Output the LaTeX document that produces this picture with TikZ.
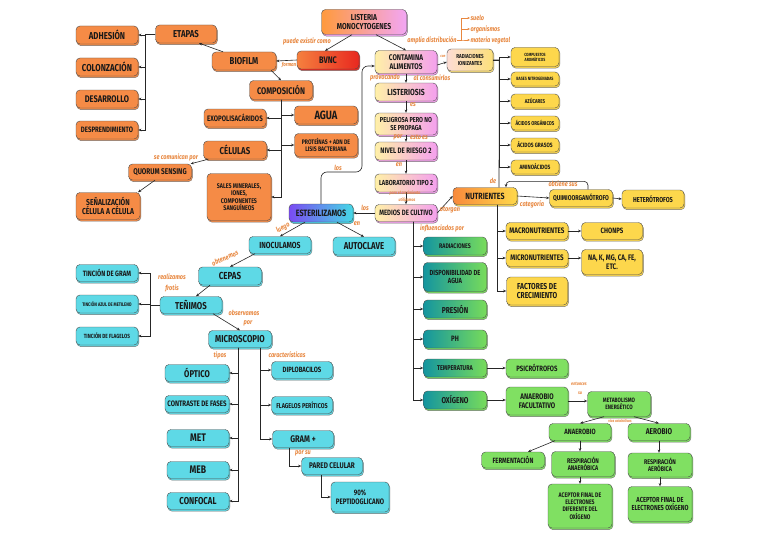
\documentclass[tikz,border=0pt]{standalone}
\usepackage{fontspec}
\usetikzlibrary{arrows.meta,shadows}
\newfontfamily\boxfont{Fira Sans}[FakeStretch=0.78]
\newfontfamily\labfont{Fira Sans}[FakeStretch=0.8]
\definecolor{orC}{HTML}{F58B46}
\definecolor{cyC}{HTML}{5ED9E6}
\definecolor{yeC}{HTML}{FDD74C}
\definecolor{grC}{HTML}{80E062}
\definecolor{labC}{HTML}{E8873F}
\definecolor{lisL}{HTML}{FF9A3C}
\definecolor{lisR}{HTML}{F2A6F4}
\definecolor{crL}{HTML}{FFF0A8}
\definecolor{crR}{HTML}{F4A0EE}
\definecolor{raL}{HTML}{FCDCD4}
\definecolor{raR}{HTML}{FCE07A}
\definecolor{bvL}{HTML}{F5803E}
\definecolor{bvR}{HTML}{E8281F}
\definecolor{esL}{HTML}{7A4BF2}
\definecolor{esR}{HTML}{45D8E6}
\definecolor{teL}{HTML}{14959F}
\definecolor{teR}{HTML}{78DC5A}
\definecolor{nuL}{HTML}{F88A3C}
\definecolor{nuR}{HTML}{FFD84A}
\tikzset{
  bx/.style={rounded corners=4pt, draw=black!70, line width=0.4pt, align=center, inner sep=0.5pt, text=black!90},
  fs/.style={font=\boxfont\bfseries\fontsize{#1}{\fpeval{#1*1.1}}\selectfont},
  card/.style={bx, fill=#1, general shadow={fill=#1, draw=black!55, shadow xshift=0.9pt, shadow yshift=-1.6pt}},
  gcard/.style 2 args={bx, left color=#1, right color=#2, general shadow={fill=#2, draw=black!55, shadow xshift=0.9pt, shadow yshift=-1.6pt}},
  sz/.style 2 args={minimum width=#1pt, minimum height=#2pt},
  arr/.style={-{Stealth[length=3.2pt,width=2.6pt]}, line width=0.6pt, draw=black!85},
  ln/.style={line width=0.6pt, draw=black!85},
  oarr/.style={-{Stealth[length=2.6pt,width=2.2pt]}, line width=0.5pt, draw=labC},
  lab/.style={text=labC, font=\labfont\bfseries\itshape\fontsize{#1}{\fpeval{#1*1.15}}\selectfont, inner sep=0.3pt},
  lab/.default=7
}
\begin{document}
\begin{tikzpicture}[x=1pt,y=-1pt]
\useasboundingbox (0,0) rectangle (768,543);
\fill[white] (0,0) rectangle (768,543);

% ---------- top ----------
\node[gcard={lisL}{lisR}, fs=8.6, sz={85}{25}] (lis) at (364,22) {LISTERIA\\MONOCYTOGENES};
\node[gcard={bvL}{bvR}, fs=9.5, sz={62}{18}] (bvnc) at (328,60) {BVNC};
\node[card=orC, fs=10, sz={64}{18}] (bio) at (244,61) {BIOFILM};
\node[card=orC, fs=10, sz={61}{18}] (eta) at (186,34) {ETAPAS};
\node[card=orC, fs=10, sz={62}{18}] (adh) at (107,35) {ADHESIÓN};
\node[card=orC, fs=10, sz={62}{18}] (col) at (107,67) {COLONZACIÓN};
\node[card=orC, fs=9.6, sz={62}{18}] (des) at (107,99) {DESARROLLO};
\node[card=orC, fs=7.8, sz={62}{18}] (dpr) at (107,130) {DESPRENDIMIENTO};
\node[card=orC, fs=9.6, sz={63}{19}] (comp) at (281,90) {COMPOSICIÓN};
\node[card=orC, fs=12, sz={63}{18}] (agua) at (326,115) {AGUA};
\node[card=orC, fs=6.6, sz={63}{23}] (prot) at (326,145) {PROTEÍNAS + ADN DE\\LISIS BACTERIANA};
\node[card=orC, fs=7.9, sz={62}{18}] (exo) at (235,118) {EXOPOLISACÁRIDOS};
\node[card=orC, fs=10, sz={63}{18}] (cel) at (235,150) {CÉLULAS};
\node[card=orC, fs=8.3, sz={63}{16}] (quo) at (160,172) {QUORUM SENSING};
\node[card=orC, fs=8.6, sz={64}{27}] (sen) at (108,206) {SEÑALIZACIÓN\\CÉLULA A CÉLULA};
\node[card=orC, fs=6.8, sz={64}{47}] (sal) at (239,197) {SALES MINERALES,\\IONES,\\COMPONENTES\\SANGUÍNEOS};

% ---------- listeria chain ----------
\node[gcard={crL}{crR}, fs=8.2, sz={62}{23}] (cont) at (406,62) {CONTAMINA\\ALIMENTOS};
\node[gcard={raL}{raR}, fs=5.8, sz={46}{22}] (radi) at (470,60) {RADIACIONES\\IONIZANTES};
\node[gcard={crL}{crR}, fs=8.8, sz={62}{18}] (lst) at (406,92) {LISTERIOSIS};
\node[gcard={crL}{crR}, fs=7.2, sz={62}{22}] (pel) at (406,124) {PELIGROSA PERO NO\\SE PROPAGA};
\node[gcard={crL}{crR}, fs=7.9, sz={62}{18}] (niv) at (406,151) {NIVEL DE RIESGO 2};
\node[gcard={crL}{crR}, fs=7.3, sz={62}{18}] (lab) at (406,183) {LABORATORIO TIPO 2};
\node[gcard={crL}{crR}, fs=7.7, sz={62}{17}] (med) at (406,213) {MEDIOS DE CULTIVO};

% ---------- compounds ----------
\node[card=yeC, fs=4.5, sz={48}{19}] (c1) at (535,57) {COMPUESTOS\\AROMÁTICOS};
\node[card=yeC, fs=4.7, sz={48}{14}] (c2) at (535,79) {BASES NITROGENADAS};
\node[card=yeC, fs=5.6, sz={48}{14}] (c3) at (535,101) {AZÚCARES};
\node[card=yeC, fs=5.6, sz={48}{14}] (c4) at (535,123) {ÁCIDOS ORGÁNICOS};
\node[card=yeC, fs=6.2, sz={48}{14}] (c5) at (535,145) {ÁCIDOS GRASOS};
\node[card=yeC, fs=6.2, sz={48}{14}] (c6) at (535,167) {AMINOÁCIDOS};

% ---------- nutrients ----------
\node[gcard={nuL}{nuR}, fs=9, sz={64}{17}] (nut) at (485,196) {NUTRIENTES};
\node[card=yeC, fs=7, sz={63}{17}] (quim) at (581,198) {QUIMIOORGANÓTROFO};
\node[card=yeC, fs=7.2, sz={62}{18}] (het) at (653,199) {HETERÓTROFOS};
\node[card=yeC, fs=8, sz={62}{17}] (mac) at (537,231) {MACRONUTRIENTES};
\node[card=yeC, fs=7.7, sz={61}{17}] (cho) at (612,231) {CHONPS};
\node[card=yeC, fs=8, sz={62}{17}] (mic) at (537,258) {MICRONUTRIENTES};
\node[card=yeC, fs=8, sz={61}{25}] (nak) at (612,262) {NA, K, MG, CA, FE,\\ETC.};
\node[card=yeC, fs=8.6, sz={61}{28}] (fac) at (537,291) {FACTORES DE\\CRECIMIENTO};

% ---------- sterilization / microscopy ----------
\node[gcard={esL}{esR}, fs=9.2, sz={64}{18}] (est) at (321,213) {ESTERILIZAMOS};
\node[card=cyC, fs=8.8, sz={62}{17}] (ino) at (280,245) {INOCULAMOS};
\node[card=cyC, fs=10, sz={62}{18}] (aut) at (364,246) {AUTOCLAVE};
\node[card=cyC, fs=10.2, sz={63}{18}] (cep) at (230,276) {CEPAS};
\node[card=cyC, fs=10, sz={62}{17}] (ten) at (191,305) {TEÑIMOS};
\node[card=cyC, fs=7.7, sz={62}{17}] (tg) at (107,273) {TINCIÓN DE GRAM};
\node[card=cyC, fs=5.1, sz={62}{18}] (ta) at (107,304) {TINCIÓN AZUL DE METILENO};
\node[card=cyC, fs=6, sz={62}{18}] (tf) at (107,336) {TINCIÓN DE FLAGELOS};
\node[card=cyC, fs=10, sz={63}{17}] (mcr) at (240,339) {MICROSCOPIO};
\node[card=cyC, fs=9.8, sz={64}{17}] (opt) at (197,373) {ÓPTICO};
\node[card=cyC, fs=7.9, sz={64}{17}] (cf) at (197,404) {CONTRASTE DE FASES};
\node[card=cyC, fs=11, sz={62}{17}] (met) at (198,438) {MET};
\node[card=cyC, fs=11, sz={62}{17}] (meb) at (198,470) {MEB};
\node[card=cyC, fs=10, sz={62}{17}] (cfo) at (198,501) {CONFOCAL};
\node[card=cyC, fs=7.6, sz={61}{17}] (dip) at (302,370) {DIPLOBACILOS};
\node[card=cyC, fs=7, sz={61}{17}] (flp) at (302,405) {FLAGELOS PERÍTICOS};
\node[card=cyC, fs=9.6, sz={61}{17}] (gra) at (303,439) {GRAM +};
\node[card=cyC, fs=8.2, sz={61}{17}] (par) at (332,466) {PARED CELULAR};
\node[card=cyC, fs=7.9, sz={58}{30}] (pep) at (360,497) {90\%\\PEPTIDOGLICANO};

% ---------- factors ----------
\node[gcard={teL}{teR}, fs=6.7, sz={63}{18}] (rad) at (455,246) {RADIACIONES};
\node[gcard={teL}{teR}, fs=7.4, sz={63}{29}] (dis) at (455,277) {DISPONIBILIDAD DE\\AGUA};
\node[gcard={teL}{teR}, fs=8.6, sz={63}{18}] (pre) at (455,309) {PRESIÓN};
\node[gcard={teL}{teR}, fs=7.8, sz={63}{18}] (ph) at (455,339) {PH};
\node[gcard={teL}{teR}, fs=7, sz={63}{18}] (tem) at (455,368) {TEMPERATURA};
\node[gcard={teL}{teR}, fs=8.5, sz={63}{18}] (oxi) at (455,400) {OXÍGENO};
\node[card=grC, fs=7.7, sz={62}{18}] (psi) at (537,368) {PSICRÓTROFOS};
\node[card=grC, fs=8.1, sz={62}{28}] (anf) at (537,401) {ANAEROBIO\\FACULTATIVO};
\node[card=grC, fs=6.3, sz={63}{25}] (mtb) at (619,404) {METABOLISMO\\ENERGÉTICO};
\node[card=grC, fs=7.6, sz={62}{17}] (ana) at (580,432) {ANAEROBIO};
\node[card=grC, fs=8.4, sz={62}{17}] (aer) at (659,432) {AEROBIO};
\node[card=grC, fs=7.6, sz={63}{16}] (fer) at (513,460) {FERMENTACIÓN};
\node[card=grC, fs=6.8, sz={63}{25}] (ran) at (583,464) {RESPIRACIÓN\\ANAERÓBICA};
\node[card=grC, fs=6.6, sz={64}{44}] (ac1) at (580,506) {ACEPTOR FINAL DE\\ELECTRONES\\DIFERENTE DEL\\OXÍGENO};
\node[card=grC, fs=6.8, sz={64}{24}] (rae) at (660,465) {RESPIRACIÓN\\AERÓBICA};
\node[card=grC, fs=7.3, sz={64}{35}] (ac2) at (660,504) {ACEPTOR FINAL DE\\ELECTRONES OXÍGENO};

% ---------- connectors ----------
\draw[arr] ([xshift=-12pt]lis.south) -- ([xshift=-3pt]bvnc.north);
\draw[arr] ([xshift=12pt]lis.south) -- (cont.north);
\draw[arr] (bvnc.west) -- (bio.east);
\draw[arr] ([xshift=-21pt]bio.north) -- ([xshift=13pt]eta.south);
\draw[arr] ([xshift=27pt]bio.south) -- (comp.north);
\foreach \t in {adh,col,des,dpr} \draw[arr] (eta.west) -- ++(-10,0) |- (\t.east);
\foreach \t in {exo,cel,sal} \draw[arr] (comp.south) |- (\t.east);
\foreach \t in {agua,prot} \draw[arr] (comp.south) |- (\t.west);
\draw[arr] ([xshift=5pt]cel.south west) -- ([xshift=-1pt]quo.north east);
\draw[arr] ([xshift=-5pt]quo.south) -- ([xshift=30pt]sen.north);

\draw[arr] (cont.south) -- (lst.north);
\draw[arr] (lst.south) -- (pel.north);
\draw[arr] (pel.south) -- (niv.north);
\draw[arr] (niv.south) -- (lab.north);
\draw[arr] (lab.south) -- (med.north);
\draw[arr] ([yshift=-3pt]cont.east) -- ([yshift=-2pt]radi.west);
\foreach \t in {c1,c2,c3,c4,c5,c6} \draw[arr] (radi.east) -- ++(6,0) |- (\t.west);
\draw[ln] (radi.east) -- ++(6,0) -- ([xshift=14pt]nut.north);
\coordinate (bendA) at (362,172);
\draw[arr, rounded corners=6pt] (est.north) |- (bendA) |- ([yshift=-4pt]cont.west);

\draw[arr] (med.west) -- (est.east);
\draw[arr] (med.east) -- (nut.west);
\draw[arr] (nut.east) -- (quim.west);
\draw[arr] (quim.east) -- (het.west);
\draw[arr, rounded corners=4pt] ([xshift=7pt]quim.north) -- ++(0,-8) -| ([xshift=21pt]nut.north);
\foreach \t in {mac,mic,fac} \draw[arr] ([xshift=12pt]nut.south) |- (\t.west);
\draw[arr] (mac.east) -- (cho.west);
\draw[arr] (mic.east) -- (mic.east -| nak.west);

\draw[arr] ([xshift=-16pt]est.south) -- (ino.north);
\draw[arr] ([xshift=16pt]est.south) -- (aut.north);
\draw[arr] ([xshift=-25pt]ino.south) -- (cep.north);
\draw[arr] ([xshift=-20pt]cep.south) -- ([xshift=5pt]ten.north);
\draw[arr] ([xshift=22pt]ten.south) -- (mcr.north);
\foreach \t in {tg,ta,tf} \draw[arr] (ten.west) -- ++(-10,0) |- (\t.east);
\foreach \t in {opt,cf,met,meb,cfo} \draw[arr] ([xshift=-2pt]mcr.south) |- (\t.east);
\foreach \t in {dip,flp,gra} \draw[arr] ([xshift=20pt]mcr.south) |- (\t.west);
\draw[arr] ([xshift=-14pt]gra.south) |- (par.west);
\draw[arr] ([xshift=-11pt]par.south) |- (pep.west);

\foreach \t in {rad,dis,pre,ph,tem,oxi} \draw[arr] ([xshift=7pt]med.south) |- (\t.west);
\draw[arr] (tem.east) -- (psi.west);
\draw[arr] (oxi.east) -- (oxi.east -| anf.west);
\draw[arr] (anf.east) -- (anf.east -| mtb.west);
\draw[arr] ([xshift=-15pt]mtb.south) -- (ana.north);
\draw[arr] ([xshift=15pt]mtb.south) -- (aer.north);
\draw[arr] ([xshift=-25pt]ana.south) -- ([xshift=15pt]fer.north);
\draw[arr] (ana.south) -- (ana.south |- ran.north);
\draw[arr] (ac1.north |- ran.south) -- (ac1.north);
\draw[arr] (aer.south) -- (aer.south |- rae.north);
\draw[arr] (rae.south) -- (ac2.north);

% ---------- labels ----------
\node[lab] at (307,41) {puede existir como};
\node[lab=5.5] at (289,65) {forman};
\node[lab] at (176,157) {se comunican por};
\node[lab] at (338,168) {los};
\node[lab, anchor=east] (amp) at (457,40) {amplia distribución};
\node[lab, anchor=west] (suelo) at (470,18) {suelo};
\node[lab, anchor=west] (orga) at (470,29) {organismos};
\node[lab, anchor=west] (mat) at (470,40) {materia vegetal};
\foreach \t in {suelo,orga,mat} \draw[oarr] (amp.east) -- ++(4,0) |- (\t.west);
\node[lab=4] at (443,56) {con};
\node[lab] at (385,78) {provocando};
\node[lab] at (432,78) {al consumirlos};
\node[lab] at (413,105) {es};
\node[lab] at (398,137) {por};
\node[lab] at (419,137) {esto es};
\node[lab] at (399,165) {en};
\node[lab=4.5] at (405,193) {para el crecimiento};
\node[lab=4.5] at (407,200) {utilizamos};
\node[lab] at (365,208) {los};
\node[lab, rotate=28] at (283,228) {luego};
\node[lab] at (357,224) {en};
\node[lab, rotate=24] at (225,258) {obtenemos};
\node[lab] at (172,277) {realizamos};
\node[lab] at (172,288) {frotis};
\node[lab] at (244,313) {observamos};
\node[lab] at (248,323) {por};
\node[lab] at (220,355) {tipos};
\node[lab] at (287,355) {características};
\node[lab] at (303,453) {por su};
\node[lab] at (442,228) {influenciados por};
\node[lab] at (450,210) {otorgan};
\node[lab] at (493,181) {de};
\node[lab] at (563,184) {obtiene sus};
\node[lab] at (532,204) {categoría};
\node[lab=4.8] at (579,384) {entonces};
\node[lab=4.8] at (580,393) {su};
\node[lab=4] at (620,421) {vías catabólicas};
\end{tikzpicture}
\end{document}
